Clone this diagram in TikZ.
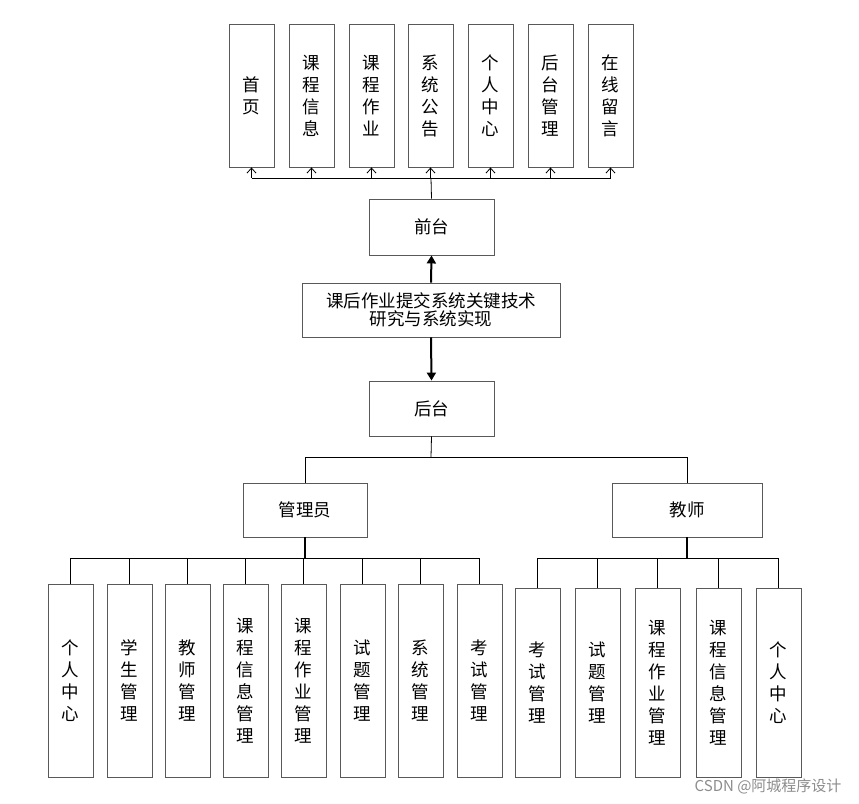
\documentclass[tikz,border=0pt]{standalone}
\usepackage{fontspec}
\newfontfamily\cjk{Noto Sans CJK SC}
\usetikzlibrary{arrows.meta}
\begin{document}
\begin{tikzpicture}[x=1pt,y=-1pt,
  box/.style={draw=black!65,line width=0.9pt,fill=white,inner sep=0pt,font=\cjk\fontsize{17.5}{22}\selectfont,align=center},
  ln/.style={draw=black,line width=0.8pt},
  harr/.style={ln,-{Straight Barb[open,length=5pt,width=9pt]}},
  bigarr/.style={draw=black,line width=2pt,-{Triangle[length=8pt,width=9pt]}}]
\useasboundingbox (0,0) rectangle (859,803);
\newcommand{\bx}[6]{\node[box,minimum width=#3-#2,minimum height=#5-#4] (#1) at ({(#2+#3)/2},{(#4+#5)/2}) {#6};}
% top
\bx{t1}{229}{274}{24}{167}{首\\页}
\bx{t2}{289}{334}{24}{167}{课\\程\\信\\息}
\bx{t3}{349}{394}{24}{167}{课\\程\\作\\业}
\bx{t4}{408}{453}{24}{167}{系\\统\\公\\告}
\bx{t5}{468}{513}{24}{167}{个\\人\\中\\心}
\bx{t6}{528}{573}{24}{167}{后\\台\\管\\理}
\bx{t7}{588}{633}{24}{167}{在\\线\\留\\言}
\bx{front}{369}{494}{199}{255}{前台}
\bx{main}{302}{560}{283}{337}{课后作业提交系统关键技术\\[-4pt]研究与系统实现}
\bx{back}{369}{494}{381}{436}{后台}
\bx{adm}{243}{367}{483}{537}{管理员}
\bx{tea}{612}{762}{483}{537}{教师}
\coordinate (tb) at (431,178);
\draw[ln] (front.north) -- (tb);
\draw[ln] (t1.south |- tb) -- (t7.south |- tb);
\foreach \i in {1,...,7} \draw[harr] (t\i.south |- tb) -- (t\i.south);
\draw[bigarr] (main.north) -- (front.south);
\draw[bigarr] (main.south) -- (back.south |- back.north);
\coordinate (bb) at (431,457);
\draw[ln] (back.south) -- (bb);
\draw[ln] (adm.north |- bb) -- (tea.north |- bb);
\draw[ln] (adm.north |- bb) -- (adm.north);
\draw[ln] (tea.north |- bb) -- (tea.north);
% admin children
\bx{a1}{48}{93}{584}{777}{个\\人\\中\\心}
\bx{a2}{107}{152}{584}{777}{学\\生\\管\\理}
\bx{a3}{165}{210}{584}{777}{教\\师\\管\\理}
\bx{a4}{223}{268}{584}{777}{课\\程\\信\\息\\管\\理}
\bx{a5}{281}{326}{584}{777}{课\\程\\作\\业\\管\\理}
\bx{a6}{340}{385}{584}{777}{试\\题\\管\\理}
\bx{a7}{398}{443}{584}{777}{系\\统\\管\\理}
\bx{a8}{457}{502}{584}{777}{考\\试\\管\\理}
\coordinate (ab) at (305,558);
\draw[ln,line width=1.5pt] (adm.south -| ab) -- (ab);
\draw[ln] (a1.north |- ab) -- (a8.north |- ab);
\foreach \i in {1,...,8} \draw[ln] (a\i.north |- ab) -- (a\i.north);
% teacher children
\bx{c1}{515}{560}{588}{777}{考\\试\\管\\理}
\bx{c2}{575}{620}{588}{777}{试\\题\\管\\理}
\bx{c3}{635}{680}{588}{777}{课\\程\\作\\业\\管\\理}
\bx{c4}{696}{741}{588}{777}{课\\程\\信\\息\\管\\理}
\bx{c5}{756}{801}{588}{777}{个\\人\\中\\心}
\coordinate (cb) at (687,558);
\draw[ln,line width=1.5pt] (tea.south) -- (cb);
\draw[ln] (c1.north |- cb) -- (c5.north |- cb);
\foreach \i in {1,...,5} \draw[ln] (c\i.north |- cb) -- (c\i.north);
\node[font=\cjk\fontsize{15}{17}\selectfont,text=black!45,anchor=east] (wm) at (845,786) {CSDN @阿城程序设计};
\end{tikzpicture}
\end{document}
